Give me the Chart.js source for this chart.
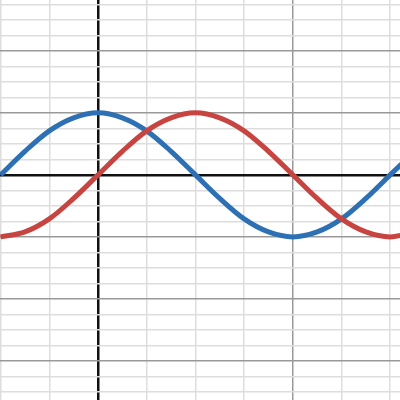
<!DOCTYPE html>
<html>
<head>
<script src="https://cdn.jsdelivr.net/npm/chart.js@4"></script>
<style>
  html, body { margin: 0; padding: 0; background: #fff; }
  #wrap { width: 400px; height: 400px; }
</style>
</head>
<body>
<div id="wrap"><canvas id="graph"></canvas></div>
<script>
// sample positions (radians) and values
const xs = [-1.571, -1.178, -0.785, -0.393, 0, 0.393, 0.785, 1.178, 1.571, 1.963, 2.356, 2.749, 3.142, 3.534, 3.927, 4.320, 4.712, 5.105];
const sinVals = [-1, -0.92, -0.71, -0.38, 0, 0.38, 0.71, 0.92, 1, 0.92, 0.71, 0.38, 0, -0.38, -0.71, -0.92, -1, -0.92];
const cosVals = [0, 0.38, 0.71, 0.92, 1, 0.92, 0.71, 0.38, 0, -0.38, -0.71, -0.92, -1, -0.92, -0.71, -0.38, 0, 0.38];

// grid lines: x every pi/4, y every 0.25
const xTicks = [-1.571, -0.785, 0, 0.785, 1.571, 2.356, 3.142, 3.927, 4.712];
const yTicks = [];
for (let v = -3.5; v <= 2.75; v += 0.25) yTicks.push(Math.round(v * 100) / 100);

const pts = vals => xs.map((x, i) => ({ x: x, y: vals[i] }));

function gridColor(ctx, majorTest) {
  const v = ctx.tick ? ctx.tick.value : null;
  if (v === null) return '#ddd';
  if (Math.abs(v) < 1e-6) return '#111';
  return majorTest(v) ? '#999' : '#ddd';
}
function gridWidth(ctx) {
  const v = ctx.tick ? ctx.tick.value : 1;
  return Math.abs(v) < 1e-6 ? 2.5 : 1.5;
}

new Chart(document.getElementById('graph'), {
  type: 'line',
  data: {
    datasets: [
      { data: pts(sinVals), borderColor: '#c74440', borderWidth: 5, pointRadius: 0, cubicInterpolationMode: 'monotone' },
      { data: pts(cosVals), borderColor: '#2d70b3', borderWidth: 5, pointRadius: 0, cubicInterpolationMode: 'monotone' }
    ]
  },
  options: {
    responsive: true,
    maintainAspectRatio: false,
    animation: false,
    layout: { padding: 0 },
    plugins: { legend: { display: false }, tooltip: { enabled: false } },
    scales: {
      x: {
        type: 'linear', min: -1.58, max: 4.87,
        afterBuildTicks: s => { s.ticks = xTicks.map(v => ({ value: v })); },
        ticks: { display: false },
        border: { display: false },
        grid: {
          drawTicks: false,
          color: c => gridColor(c, v => Math.abs(v / Math.PI - Math.round(v / Math.PI)) < 0.01),
          lineWidth: gridWidth
        }
      },
      y: {
        type: 'linear', min: -3.63, max: 2.82,
        afterBuildTicks: s => { s.ticks = yTicks.map(v => ({ value: v })); },
        ticks: { display: false },
        border: { display: false },
        grid: {
          drawTicks: false,
          color: c => gridColor(c, v => Math.abs(v - Math.round(v)) < 1e-6),
          lineWidth: gridWidth
        }
      }
    }
  }
});
</script>
</body>
</html>
